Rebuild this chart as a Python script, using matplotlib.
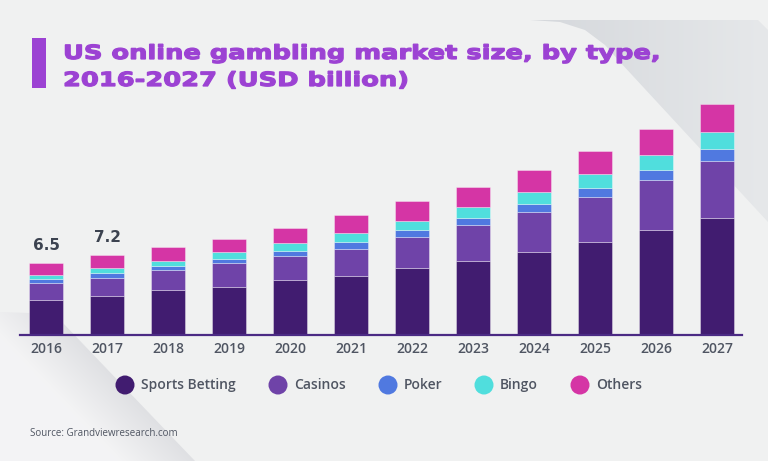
import numpy as np
import matplotlib
matplotlib.use("Agg")
import matplotlib.pyplot as plt
from matplotlib.patches import Polygon, Rectangle, Circle, PathPatch
from matplotlib.textpath import TextPath
from matplotlib.font_manager import FontProperties
from matplotlib.transforms import Affine2D

# ---------------- data ----------------
years = [2016, 2017, 2018, 2019, 2020, 2021, 2022, 2023, 2024, 2025, 2026, 2027]
sports_betting = [3.17, 3.53, 4.05, 4.37, 5.00, 5.37, 6.06, 6.70, 7.51, 8.44, 9.47, 10.62]
casinos = [1.57, 1.66, 1.81, 2.12, 2.14, 2.44, 2.81, 3.26, 3.65, 4.02, 4.55, 5.16]
poker = [0.31, 0.42, 0.42, 0.39, 0.48, 0.58, 0.61, 0.66, 0.70, 0.81, 0.88, 1.06]
bingo = [0.42, 0.45, 0.45, 0.61, 0.67, 0.87, 0.87, 0.97, 1.09, 1.29, 1.41, 1.54]
others = [1.03, 1.14, 1.21, 1.23, 1.36, 1.63, 1.76, 1.78, 1.96, 2.11, 2.33, 2.51]
series_names = ["Sports Betting", "Casinos", "Poker", "Bingo", "Others"]
value_labels = {2016: "6.5", 2017: "7.2"}
title_lines = ["US online gambling market size, by type,", "2016-2027 (USD billion)"]
source = "Source: Grandviewresearch.com"

colors = ["#411c70", "#6f43a8", "#5079e0", "#50dedd", "#d535a5"]
BG = "#f0f1f1"
TITLE_C = "#9c42d3"
TEXT_C = "#4f5562"

W, H = 768, 461
fig = plt.figure(figsize=(W / 100, H / 100), dpi=100, facecolor=BG)

# ---------- background decoration (pixel coordinates) ----------
bg = fig.add_axes([0, 0, 1, 1], zorder=0)
bg.set_xlim(0, W)
bg.set_ylim(H, 0)
bg.axis("off")
bg.set_facecolor(BG)

# top-right folded shape with horizontal gradient
tr_pts = [(530, 20), (560, 22), (585, 30), (605, 45), (620, 62), (768, 222),
          (768, 30), (758, 20)]
tr_poly = Polygon(tr_pts, closed=True, facecolor="none", edgecolor="none")
bg.add_patch(tr_poly)
grad = np.linspace(0, 1, 256)[None, :]
cmap_tr = matplotlib.colors.LinearSegmentedColormap.from_list("tr", ["#d5d8dc", "#e6e8ea"])
im = bg.imshow(grad, extent=(530, 768, 222, 20), cmap=cmap_tr, aspect="auto", zorder=1)
im.set_clip_path(tr_poly)

# bottom-left fold with soft shading near the diagonal edge
bl_pts = [(0, 312), (30, 313), (50, 316), (62, 322), (195, 461), (0, 461)]
bl_poly = Polygon(bl_pts, closed=True, facecolor="none", edgecolor="none")
bg.add_patch(bl_poly)
yy, xx = np.mgrid[312:461, 0:200]
dx, dy = 195 - 62, 461 - 322
dist = ((xx - 62) * dy - (yy - 322) * dx) / np.hypot(dx, dy)
shade = np.clip(-dist / 55.0, 0, 1)
cmap_bl = matplotlib.colors.LinearSegmentedColormap.from_list("bl", ["#dfe0e3", "#f4f4f5"])
im2 = bg.imshow(shade, extent=(0, 200, 461, 312), cmap=cmap_bl, aspect="auto",
                zorder=1, vmin=0, vmax=1)
im2.set_clip_path(bl_poly)

# title bar + horizontally stretched title
bg.add_patch(Rectangle((32, 38), 14, 50, facecolor=TITLE_C, edgecolor="none", zorder=2))
fp = FontProperties(family="DejaVu Sans", weight="bold")
size = 19.5
p1 = TextPath((0, 0), title_lines[0], size=size, prop=fp)
w1 = p1.get_extents().x1
sx = 595.0 / w1
for line, base in zip(title_lines, [59, 86]):
    tp = TextPath((0, 0), line, size=size, prop=fp)
    tr = Affine2D().scale(sx, -1.0).translate(63, base)
    bg.add_patch(PathPatch(tr.transform_path(tp), facecolor=TITLE_C,
                           edgecolor=TITLE_C, linewidth=0.9, zorder=3))

# legend
leg_x = [125, 278, 388, 484, 580]
for xc, name, c in zip(leg_x, series_names, colors):
    bg.add_patch(Circle((xc, 385), 9.5, facecolor=c, edgecolor="none", zorder=3))
    bg.text(xc + 16, 385, name, color=TEXT_C, fontsize=10, family="Open Sans",
            fontweight="semibold", va="center", ha="left", zorder=3)

bg.text(30, 433, source, color=TEXT_C, fontsize=7, family="Open Sans",
        va="center", ha="left", zorder=3)

# ---------------- main chart ----------------
px_per_unit = 11.05
x0_px, spacing = 46.3, 61.0
ax_left, ax_right = 20, 742
base_y, top_y = 335, 95
ax = fig.add_axes([ax_left / W, (H - base_y) / H, (ax_right - ax_left) / W,
                   (base_y - top_y) / H], zorder=2)
ax.set_facecolor("none")
ax.set_xlim((ax_left - x0_px) / spacing, (ax_right - x0_px) / spacing)
ax.set_ylim(0, (base_y - top_y) / px_per_unit)

x = np.arange(len(years))
bottom = np.zeros(len(years))
for vals, c in zip([sports_betting, casinos, poker, bingo, others], colors):
    ax.bar(x, vals, width=0.56, bottom=bottom, color=c,
           edgecolor=(1, 1, 1, 0.35), linewidth=0.7)
    bottom += np.array(vals)

for i, yr in enumerate(years):
    if yr in value_labels:
        ax.annotate(value_labels[yr], (x[i], bottom[i]), xytext=(0, 7.5),
                    textcoords="offset points", ha="center", va="bottom",
                    fontsize=11, fontweight="bold", color="#3c4350",
                    family="DejaVu Sans")

for s in ["top", "right", "left"]:
    ax.spines[s].set_visible(False)
ax.spines["bottom"].set_color("#4b2a84")
ax.spines["bottom"].set_linewidth(1.6)
ax.set_yticks([])
ax.set_xticks(x)
ax.set_xticklabels([str(y) for y in years], fontsize=10, family="Open Sans",
                   fontweight="semibold", color=TEXT_C)
ax.tick_params(axis="x", length=0, pad=5)

fig.savefig("out.png", dpi=100, facecolor=BG)
